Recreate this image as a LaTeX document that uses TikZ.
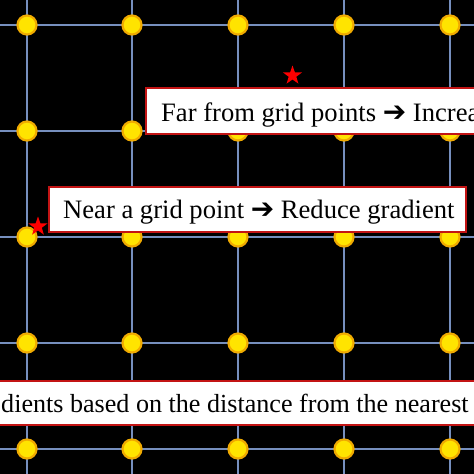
\documentclass[tikz,border=0pt]{standalone}
\usepackage{fontspec}
\setmainfont{Liberation Serif}
\newfontfamily\arrowfont{DejaVu Sans}
\usetikzlibrary{shapes.geometric}
\definecolor{gridc}{RGB}{118,143,190}
\definecolor{dotfill}{RGB}{255,228,0}
\definecolor{dotedge}{RGB}{240,170,0}
\definecolor{boxedge}{RGB}{195,20,20}
\newcommand{\myarrow}{{\arrowfont\bfseries\fontsize{28}{30}\selectfont\char"2794}}
\begin{document}
\begin{tikzpicture}[x=1pt,y=-1pt,
  gridline/.style={draw=gridc,line width=1.8pt},
  gpt/.style={circle,fill=dotfill,draw=dotedge,line width=2.2pt,minimum size=19pt,inner sep=0pt},
  msgbox/.style={rectangle,draw=boxedge,line width=2pt,fill=white,inner sep=0pt},
  msgtext/.style={anchor=base west,inner sep=0pt,font=\fontsize{26.6}{30}\selectfont,text=black},
  rstar/.style={star,star points=5,star point ratio=2.5,fill=red,draw=none,minimum size=20pt,inner sep=0pt}]
\useasboundingbox (0,0) rectangle (474,474);
\fill[black] (0,0) rectangle (474,474);
\clip (0,0) rectangle (474,474);
% grid lines
\foreach \p in {27,132,238,344,450}{
  \draw[gridline] (\p,-5) -- (\p,480);
}
\foreach \q in {25,131,237,343,449}{
  \draw[gridline] (-5,\q) -- (480,\q);
}
% grid points
\foreach \p [count=\i] in {27,132,238,344,450}{
  \foreach \q [count=\j] in {25,131,237,343,449}{
    \node[gpt] (d-\i-\j) at (\p,\q) {};
  }
}
% message boxes
\node[msgbox,minimum width=350pt,minimum height=46pt] (b1) at (321,111) {};
\node[msgtext] (t1) at (161,121) {Far from grid points \myarrow{} Increa};
\node[msgbox,minimum width=417pt,minimum height=45pt] (b2) at (257.5,209.5) {};
\node[msgtext] (t2) at (63,218) {Near a grid point \myarrow{} Reduce gradient};
\node[msgbox,minimum width=500pt,minimum height=44pt] (b3) at (237,403) {};
\node[msgtext,font=\fontsize{26.1}{30}\selectfont] (t3) at (1,412) {dients based on the distance from the nearest};
% stars
\node[rstar] (s1) at (292.5,75.5) {};
\node[rstar] (s2) at (38,226.5) {};
\end{tikzpicture}
\end{document}
